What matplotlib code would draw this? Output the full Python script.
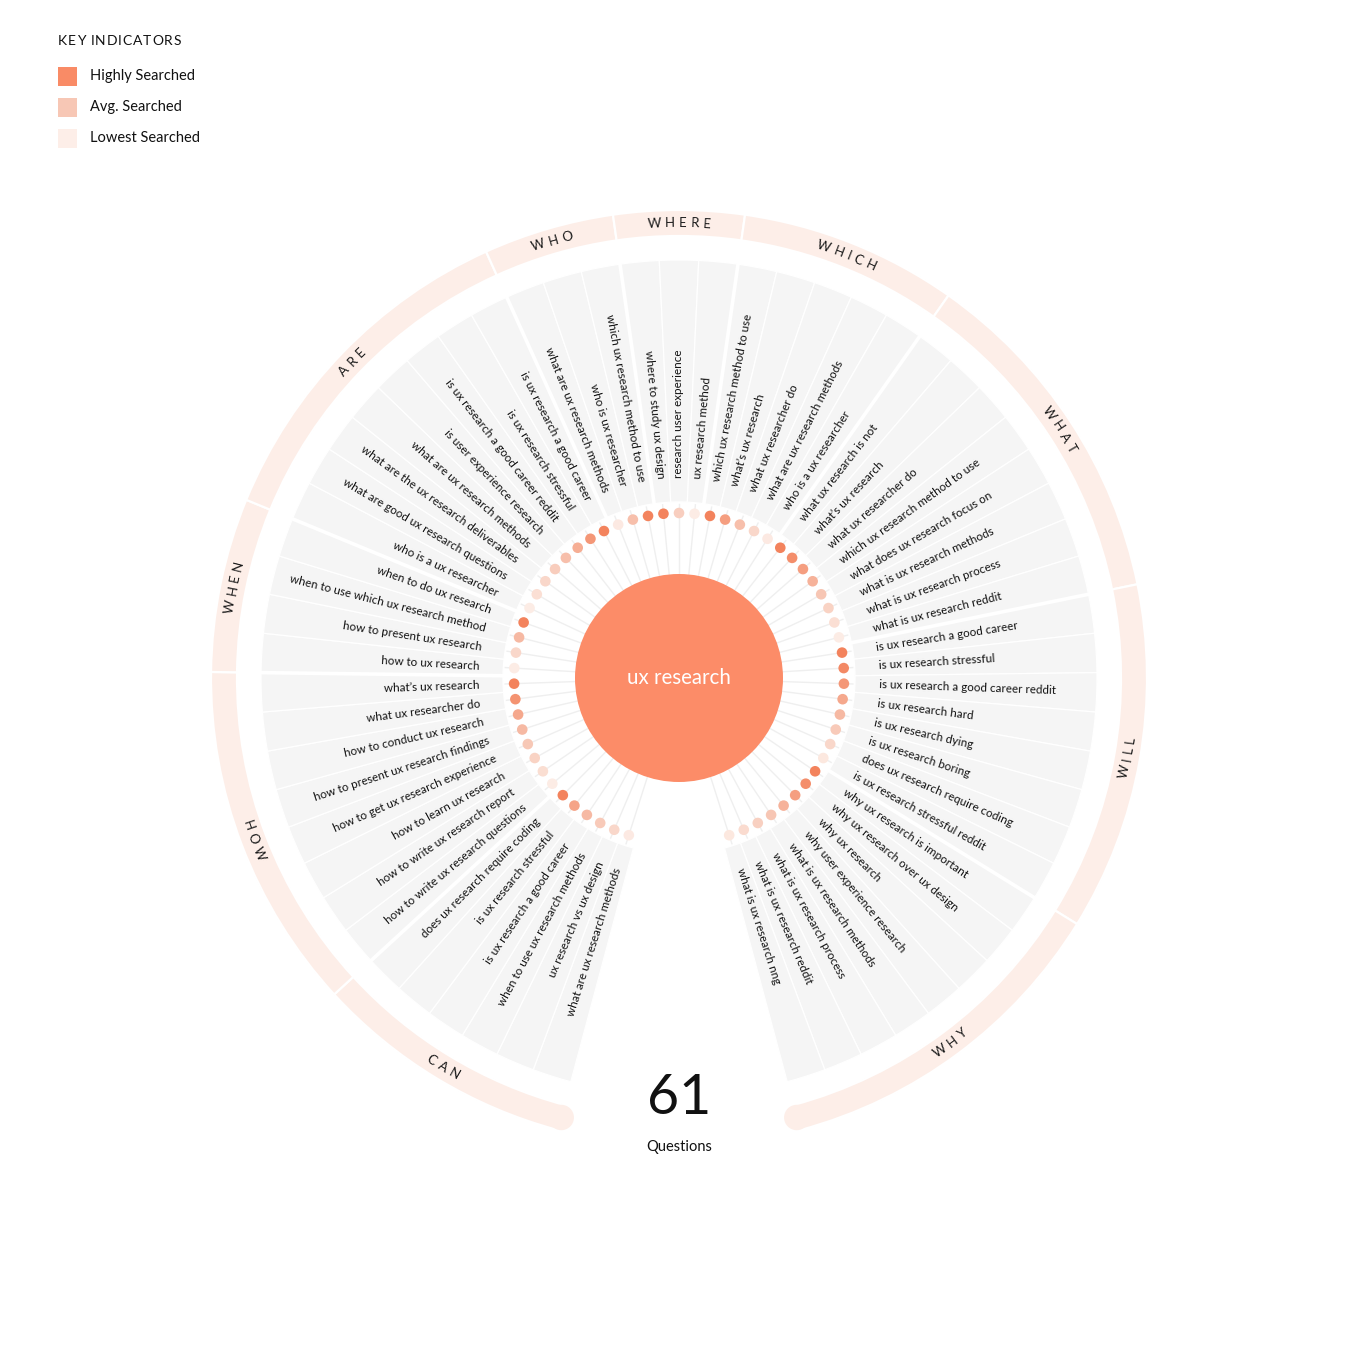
import numpy as np
import matplotlib.pyplot as plt
from matplotlib.patches import Wedge, Circle, Rectangle
from matplotlib.colors import LinearSegmentedColormap

plt.rcParams['font.family'] = ['Lato', 'DejaVu Sans']

# groups in clockwise order, starting at the bottom-left end of the ring
group_names = ['CAN', 'HOW', 'WHEN', 'ARE', 'WHO', 'WHERE', 'WHICH', 'WHAT', 'WILL', 'WHY']
group_sizes = [6, 8, 4, 8, 3, 3, 5, 8, 8, 8]

questions = [
    # can
    'what are ux research methods', 'ux research vs ux design', 'when to use ux research methods',
    'is ux research a good career', 'is ux research stressful', 'does ux research require coding',
    # how
    'how to write ux research questions', 'how to write ux research report', 'how to learn ux research',
    'how to get ux research experience', 'how to present ux research findings', 'how to conduct ux research',
    'what ux researcher do', 'what\u2019s ux research',
    # when
    'how to ux research', 'how to present ux research', 'when to use which ux research method',
    'when to do ux research',
    # are
    'who is a ux researcher', 'what are good ux research questions', 'what are the ux research deliverables',
    'what are ux research methods', 'is user experience research', 'is ux research a good career reddit',
    'is ux research stressful', 'is ux research a good career',
    # who
    'what are ux research methods', 'who is ux researcher', 'which ux research method to use',
    # where
    'where to study ux design', 'research user experience', 'ux research method',
    # which
    'which ux research method to use', 'what\u2019s ux research', 'what ux researcher do',
    'what are ux research methods', 'who is a ux researcher',
    # what
    'what ux research is not', 'what\u2019s ux research', 'what ux researcher do',
    'which ux research method to use', 'what does ux research focus on', 'what is ux research methods',
    'what is ux research process', 'what is ux research reddit',
    # will
    'is ux research a good career', 'is ux research stressful', 'is ux research a good career reddit',
    'is ux research hard', 'is ux research dying', 'is ux research boring',
    'does ux research require coding', 'is ux research stressful reddit',
    # why
    'why ux research is important', 'why ux research over ux design', 'why ux research',
    'why user experience research', 'what is ux research methods', 'what is ux research process',
    'what is ux research reddit', 'what is ux research nng',
]

# relative search volume, 0 = lowest, 1 = highest
scores = [
    0.08, 0.3, 0.45, 0.6, 0.75, 1.0,
    0.05, 0.22, 0.35, 0.48, 0.6, 0.72, 0.88, 1.0,
    0.05, 0.3, 0.6, 1.0,
    0.05, 0.2, 0.3, 0.42, 0.55, 0.68, 0.85, 1.0,
    0.08, 0.55, 1.0,
    1.0, 0.4, 0.05,
    1.0, 0.8, 0.55, 0.3, 0.08,
    1.0, 0.92, 0.8, 0.65, 0.5, 0.35, 0.2, 0.05,
    1.0, 0.95, 0.85, 0.72, 0.6, 0.45, 0.3, 0.1,
    1.0, 0.92, 0.8, 0.65, 0.5, 0.38, 0.25, 0.1,
]

legend_labels = ['Highly Searched', 'Avg. Searched', 'Lowest Searched']
legend_colors = ['#F98B66', '#F7C7B5', '#FDEEE8']
center_label = 'ux research'

W = 1358
cx, cy = 679, W - 678
start, span = 195.0, 330.0
n = len(questions)
step = span / n

heat = LinearSegmentedColormap.from_list('heat', ['#FDF0EA', '#F7C6B4', '#F3835D'])


def pol(r, b):
    t = np.radians(b)
    return cx + r * np.sin(t), cy + r * np.cos(t)


fig = plt.figure(figsize=(13.58, 13.58), dpi=100)
ax = fig.add_axes([0, 0, 1, 1])
ax.set_xlim(0, W)
ax.set_ylim(0, W)
ax.axis('off')
renderer = fig.canvas.get_renderer()


def char_widths(s, fs):
    ws = []
    for ch in s:
        t = ax.text(0, 0, ch if ch != ' ' else 'i', fontsize=fs)
        ws.append(t.get_window_extent(renderer).width)
        t.remove()
    return ws


# gray wedges, one per question
for i in range(n):
    b0 = start + i * step
    b1 = b0 + step
    ax.add_patch(Wedge((cx, cy), 418, 90 - b1, 90 - b0, width=242,
                       facecolor='#F5F5F5', edgecolor='white', lw=0.9))

# spokes and dots
for i in range(n):
    b = start + (i + 0.5) * step
    x0, y0 = pol(104, b)
    x1, y1 = pol(174, b)
    ax.plot([x0, x1], [y0, y1], color='#EFEFEF', lw=1.0, zorder=1)
    dx, dy = pol(165, b)
    ax.add_patch(Circle((dx, dy), 5.3, facecolor=heat(scores[i]), edgecolor='none', zorder=3))

# thick separators and outer ring
cum = np.cumsum([0] + group_sizes)
for k in range(1, len(group_sizes)):
    b = start + cum[k] * step
    x0, y0 = pol(172, b)
    x1, y1 = pol(424, b)
    ax.plot([x0, x1], [y0, y1], color='white', lw=2.6, solid_capstyle='butt', zorder=2)

ring_r, ring_w = 468, 26
ring_mid = ring_r - ring_w / 2
ring_color = '#FDEEE8'
for k, name in enumerate(group_names):
    b0 = start + cum[k] * step
    b1 = start + cum[k + 1] * step
    ax.add_patch(Wedge((cx, cy), ring_r, 90 - b1, 90 - b0, width=ring_w,
                       facecolor=ring_color, edgecolor='white', lw=1.6))
for b in [start, start + span]:
    ax.add_patch(Circle(pol(ring_mid, b), ring_w / 2 - 0.3, facecolor=ring_color, edgecolor='none'))

# ring labels, letter by letter along the arc
ring_fs, track = 9.5, 4.0
for k, name in enumerate(group_names):
    bc = start + (cum[k] + cum[k + 1]) / 2 * step
    flip = 90 < bc % 360 < 270
    ws = char_widths(name, ring_fs)
    total = sum(ws) + track * (len(ws) - 1)
    pos = -total / 2
    for j, ch in enumerate(name):
        s = pos + ws[j] / 2
        pos += ws[j] + track
        off = np.degrees(s / ring_mid)
        b = bc - off if flip else bc + off
        rot = 180 - b if flip else -b
        x, y = pol(ring_mid, b)
        ax.text(x, y, ch, rotation=rot, rotation_mode='anchor', ha='center', va='center',
                fontsize=ring_fs, color='#1a1a1a')

# question labels
for i, q in enumerate(questions):
    b = round((start + (i + 0.5) * step) % 360, 6)
    x, y = pol(200, b)
    if b < 180:
        ax.text(x, y, q, rotation=90 - b, rotation_mode='anchor', ha='left', va='center',
                fontsize=8.4, color='#111111')
    else:
        ax.text(x, y, q, rotation=270 - b, rotation_mode='anchor', ha='right', va='center',
                fontsize=8.4, color='#111111')

# center
ax.add_patch(Circle((cx, cy), 104, facecolor='#FC8C68', edgecolor='none', zorder=4))
ax.text(cx, cy, center_label, ha='center', va='center', color='white', fontsize=14.8, zorder=5)

ax.text(679, W - 1098, str(n), ha='center', va='center', fontsize=40, color='#111111')
ax.text(679, W - 1147, 'Questions', ha='center', va='center', fontsize=10.5, color='#111111')

# legend
title = 'KEY INDICATORS'
xs = 58
for ch, w in zip(title, char_widths(title, 10)):
    if ch != ' ':
        ax.text(xs, W - 41, ch, ha='left', va='center', fontsize=10, color='#111111')
    xs += w + 0.9
for k, (lab, col) in enumerate(zip(legend_labels, legend_colors)):
    yc = 76 + k * 31
    ax.add_patch(Rectangle((58, W - yc - 9.5), 19, 19, facecolor=col, edgecolor='none'))
    ax.text(90, W - yc, lab, ha='left', va='center', fontsize=10.5, color='#111111')

fig.savefig('out.png', dpi=100, facecolor='white')
